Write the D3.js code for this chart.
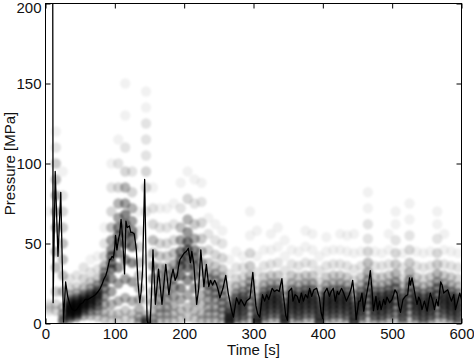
<!DOCTYPE html>
<html>
<head>
<meta charset="utf-8">
<script src="https://cdn.jsdelivr.net/npm/d3@7"></script>
<style>
  html, body { margin: 0; padding: 0; background: #fff; }
  svg { display: block; }
  text { font-family: "Liberation Sans", Arial, sans-serif; }
</style>
</head>
<body>
<svg id="chart" width="474" height="359"></svg>
<script>
// ---- data ----
const xTicks = [0, 100, 200, 300, 400, 500, 600];
const yTicks = [0, 50, 100, 150, 200];
const xLabel = "Time [s]";
const yLabel = "Pressure [MPa]";

// mean pressure line (time, value)
const lineTime = [10.3, 11, 14, 18, 22, 26, 29, 32, 35, 38, 42, 45, 50, 54, 57, 61, 65, 69, 72, 76, 79, 82, 84, 87, 89, 91, 92.5, 94, 96, 98, 100, 101, 103, 105, 107, 109, 111, 114, 116, 118, 121, 123, 125, 128, 131, 133.5, 136, 138, 140, 143, 146.5, 148, 151, 153, 155, 158.5, 163, 168, 173.5, 178, 181, 184, 187, 190, 192, 194, 197, 200, 203, 206, 209, 211, 214, 218, 221, 224, 228.5, 232, 235.5, 238, 241, 244, 247, 249, 251.5, 256, 260, 263.5, 268.5, 271, 275.5, 279, 282, 287, 290, 295, 299, 303.5, 306, 309, 313, 316, 319, 322, 327, 330, 334, 337, 341, 343, 346.5, 349, 351, 355, 357, 360, 363, 366, 369, 372, 375, 378, 381, 384, 387, 391, 395, 397.6, 400, 402, 406, 409.5, 412, 415, 418, 421, 423, 427, 430, 434, 438, 441, 443, 446, 448, 452, 454, 456.4, 459, 462.6, 466, 468.5, 470.9, 473, 476.6, 479, 481.9, 484, 487.7, 490, 492.5, 496.4, 499.8, 502, 504, 507, 509.5, 512, 515.6, 519, 522.4, 525, 526.2, 528.6, 531, 533.5, 535.9, 538.3, 540.7, 543, 546.5, 550.4, 552.8, 555, 558.5, 561, 563.8, 566.3, 570, 572, 574.4, 576.8, 580.2, 583, 585.5, 588.9, 591.3, 594.6, 597.5, 600];
const lineValue = [260, 13, 95, 42, 82, 1, 26, 17, 12, 9, 8, 8.7, 12, 13, 15, 15, 16, 17, 18, 20, 22, 25, 27.5, 30, 33, 37, 40, 40, 42, 41, 48, 55, 46, 52, 56, 65, 55, 31, 64, 60, 61, 57, 57, 56, 46, 25, 13, 20, 33, 90, 2, 0, 0, 20, 46, 12, 34, 12, 37, 18, 28, 34, 27, 30, 36, 40, 42, 44, 45, 47, 38, 45, 37, 12, 22, 46, 23, 37, 23, 27, 24, 27, 24, 21, 16, 22, 30, 19, 8, 4, 16, 12, 15, 11, 14, 16, 32, 11, 6, 4, 18, 14, 18, 15, 22, 20, 21, 20, 28, 18, 5, 2, 20, 22, 14, 18, 17, 13, 19, 14, 18, 16, 22, 17, 21, 22, 16, 6.7, 3, 19, 22, 17, 20, 22, 14, 20, 18, 22, 19, 14, 18, 22, 27, 15, 2.5, 14, 14, 19, 7.7, 17, 25, 33, 21, 8, 17, 8.7, 14, 8.7, 15, 12, 16.5, 13, 15, 18, 21, 19, 11, 7, 15, 17, 18, 28.5, 24, 28.5, 23, 17, 12, 16.5, 14, 8.7, 14, 7.7, 14, 19, 14, 8.7, 15, 11, 26, 24, 19, 20, 21, 17, 14, 18, 8.7, 14, 19, 15];

// individual sensor readings, grouped by time bin: pressure levels and how many readings sit at each
const scatterTime = [5, 15, 25, 35, 45, 55, 65, 75, 85, 95, 105, 115, 125, 135, 145, 155, 165, 175, 185, 195, 205, 215, 225, 235, 245, 255, 265, 275, 285, 295, 305, 315, 325, 335, 345, 355, 365, 375, 385, 395, 405, 415, 425, 435, 445, 455, 465, 475, 485, 495, 505, 515, 525, 535, 545, 555, 565, 575, 585, 595];
const scatterValues = [
  [8, 10, 12, 70],
  [8, 12, 20, 35, 45, 60, 70, 80, 90, 100, 110, 120],
  [1, 3, 6, 10, 20, 30, 40, 50, 60, 70, 80, 95],
  [3, 5, 7, 9, 11, 13, 15, 18, 22, 28],
  [4, 6, 8, 10, 12, 14, 16, 19, 23, 30],
  [5, 8, 10, 12, 14, 16, 18, 22, 28, 35],
  [5, 8, 11, 13, 15, 17, 19, 22, 26, 32, 40],
  [4, 8, 11, 14, 17, 19, 21, 24, 28, 34, 42],
  [3, 7, 12, 17, 22, 26, 29, 32, 36, 42, 50, 60],
  [2, 6, 12, 20, 28, 34, 38, 42, 46, 52, 60, 70, 85, 100],
  [2, 6, 14, 25, 35, 44, 50, 55, 60, 66, 75, 85, 100, 115],
  [3, 8, 16, 28, 40, 50, 56, 62, 68, 75, 85, 95, 110, 130, 150],
  [2, 6, 14, 26, 38, 48, 54, 58, 64, 72, 82, 95],
  [1, 4, 9, 15, 22, 30, 38, 48, 58, 70],
  [0, 2, 5, 15, 40, 70, 85, 95, 105, 115, 125, 135, 145],
  [0, 3, 7, 13, 20, 28, 36, 44, 52, 62, 72, 85],
  [2, 6, 10, 15, 20, 25, 30, 35, 42, 50, 60, 72],
  [2, 6, 10, 15, 20, 25, 30, 35, 42, 50, 60, 72],
  [2, 6, 11, 17, 23, 28, 32, 37, 44, 52, 62, 75],
  [3, 8, 15, 22, 30, 36, 40, 45, 52, 60, 72, 88],
  [4, 10, 18, 27, 35, 41, 46, 51, 57, 65, 78, 95],
  [3, 8, 14, 22, 30, 36, 41, 46, 53, 62, 75, 90],
  [2, 6, 12, 18, 25, 32, 38, 45, 53, 63, 76, 88],
  [2, 6, 10, 15, 20, 24, 28, 32, 38, 46, 56, 66],
  [2, 6, 10, 15, 19, 23, 27, 31, 36, 43, 52, 62],
  [1, 5, 9, 13, 17, 21, 25, 29, 34, 41, 50, 58],
  [0, 2, 4, 6, 8, 11, 14, 18, 24, 31, 40],
  [1, 4, 7, 10, 13, 16, 19, 23, 28, 35, 45],
  [2, 5, 8, 11, 14, 17, 20, 24, 29, 35, 42],
  [2, 6, 10, 14, 18, 22, 26, 30, 36, 44, 55, 70],
  [0, 2, 4, 7, 10, 13, 16, 20, 25, 32, 42, 58],
  [2, 5, 8, 11, 14, 17, 20, 24, 29, 36, 46],
  [3, 6, 9, 12, 15, 18, 21, 25, 30, 37, 46, 56],
  [3, 6, 9, 12, 15, 18, 21, 25, 30, 38, 48, 60],
  [0, 2, 4, 7, 10, 13, 17, 21, 26, 33, 42, 52],
  [3, 6, 9, 12, 15, 18, 21, 25, 30, 37, 46],
  [2, 5, 8, 11, 14, 17, 20, 24, 29, 36, 45],
  [3, 6, 9, 12, 15, 18, 21, 25, 30, 38, 48, 58],
  [3, 6, 9, 12, 15, 18, 21, 25, 30, 37, 46, 56],
  [0, 2, 5, 8, 11, 14, 17, 21, 26, 33, 42],
  [2, 5, 8, 11, 14, 17, 20, 24, 29, 36, 45, 54],
  [3, 6, 9, 12, 15, 18, 21, 25, 30, 37, 46],
  [3, 6, 9, 12, 15, 18, 21, 25, 30, 37, 46, 56],
  [2, 5, 8, 11, 14, 17, 20, 24, 29, 36, 45, 55],
  [0, 2, 5, 8, 11, 14, 18, 22, 27, 34, 44, 56],
  [2, 5, 8, 11, 14, 17, 20, 24, 29, 36, 45],
  [3, 7, 11, 15, 19, 23, 27, 32, 38, 45, 53, 62, 72, 82],
  [2, 5, 8, 11, 14, 17, 20, 24, 29, 36, 45],
  [2, 5, 8, 11, 14, 17, 20, 24, 29, 36, 44],
  [3, 6, 9, 12, 15, 18, 21, 25, 30, 37, 46, 56],
  [3, 6, 10, 14, 18, 22, 26, 31, 37, 44, 52, 62, 70],
  [1, 4, 7, 10, 13, 16, 19, 23, 28, 35, 44],
  [3, 7, 11, 15, 19, 23, 27, 32, 38, 46, 55, 65, 75],
  [2, 5, 8, 11, 14, 17, 20, 24, 29, 36, 45],
  [1, 4, 7, 10, 13, 16, 19, 23, 28, 35, 44],
  [2, 5, 8, 11, 14, 17, 20, 24, 29, 36, 45],
  [3, 6, 10, 14, 18, 22, 26, 31, 37, 44, 53, 62, 70],
  [3, 6, 9, 12, 15, 18, 21, 25, 30, 37, 46, 56],
  [2, 5, 8, 11, 14, 17, 20, 24, 29, 36, 45],
  [1, 4, 7, 10, 13, 16, 19, 23, 28, 35, 44]
];
const scatterCounts = [
  [2, 2, 2, 1],
  [3, 3, 4, 5, 6, 6, 6, 6, 5, 4, 2, 1],
  [8, 8, 6, 5, 5, 5, 5, 5, 4, 3, 2, 1],
  [10, 16, 20, 22, 20, 14, 9, 5, 3, 2],
  [10, 16, 20, 22, 20, 14, 9, 5, 3, 2],
  [7, 11, 15, 18, 16, 13, 9, 5, 3, 2],
  [5, 8, 12, 15, 15, 13, 10, 6, 4, 2, 1],
  [4, 7, 10, 13, 15, 13, 10, 7, 4, 2, 1],
  [4, 5, 7, 9, 11, 12, 11, 8, 6, 3, 2, 1],
  [3, 4, 6, 8, 10, 12, 13, 13, 10, 8, 5, 3, 2, 1],
  [3, 4, 6, 8, 10, 12, 13, 13, 11, 8, 6, 3, 2, 1],
  [3, 4, 6, 8, 10, 12, 13, 13, 11, 8, 6, 3, 2, 1, 1],
  [3, 4, 6, 8, 10, 12, 13, 10, 8, 6, 3, 2],
  [6, 6, 6, 6, 6, 5, 4, 3, 2, 1],
  [14, 10, 5, 3, 2, 2, 3, 3, 2, 2, 2, 1, 1],
  [6, 6, 5, 5, 6, 7, 7, 6, 5, 3, 2, 1],
  [5, 6, 7, 8, 8, 8, 8, 6, 4, 3, 2, 1],
  [5, 6, 7, 8, 8, 8, 8, 6, 4, 3, 2, 1],
  [4, 5, 6, 8, 9, 9, 9, 7, 5, 3, 2, 1],
  [4, 5, 7, 10, 13, 14, 14, 12, 8, 5, 2, 1],
  [4, 5, 7, 10, 13, 15, 15, 13, 9, 6, 3, 1],
  [4, 5, 7, 9, 12, 13, 13, 10, 7, 4, 2, 1],
  [5, 5, 5, 6, 7, 7, 6, 5, 4, 3, 2, 1],
  [5, 6, 7, 8, 9, 9, 8, 6, 4, 3, 2, 1],
  [5, 6, 7, 8, 9, 9, 8, 6, 4, 3, 2, 1],
  [5, 7, 8, 9, 9, 9, 7, 6, 4, 3, 2, 1],
  [13, 13, 12, 10, 9, 7, 6, 4, 3, 2, 1],
  [7, 10, 12, 13, 13, 10, 7, 5, 3, 2, 1],
  [7, 10, 12, 13, 13, 10, 7, 5, 3, 2, 1],
  [5, 6, 8, 9, 9, 9, 7, 5, 4, 3, 1, 1],
  [12, 12, 11, 10, 9, 7, 5, 4, 3, 2, 1, 1],
  [7, 10, 13, 15, 15, 12, 9, 6, 4, 2, 1],
  [6, 9, 12, 14, 15, 13, 10, 7, 4, 2, 1, 1],
  [6, 9, 12, 14, 15, 13, 10, 7, 4, 2, 1, 1],
  [10, 12, 12, 12, 11, 9, 7, 5, 3, 2, 1, 1],
  [7, 10, 13, 15, 15, 12, 9, 6, 4, 2, 1],
  [7, 10, 13, 15, 15, 12, 9, 6, 4, 2, 1],
  [6, 9, 12, 14, 15, 13, 10, 7, 4, 2, 1, 1],
  [6, 9, 12, 14, 15, 13, 10, 7, 4, 2, 1, 1],
  [10, 12, 12, 12, 11, 9, 7, 5, 3, 2, 1],
  [6, 9, 12, 14, 15, 13, 10, 7, 4, 2, 1, 1],
  [7, 10, 13, 15, 15, 12, 9, 6, 4, 2, 1],
  [6, 9, 12, 14, 15, 13, 10, 7, 4, 2, 1, 1],
  [6, 9, 12, 14, 15, 13, 10, 7, 4, 2, 1, 1],
  [10, 12, 12, 12, 11, 9, 7, 5, 3, 2, 1, 1],
  [7, 10, 13, 15, 15, 12, 9, 6, 4, 2, 1],
  [5, 8, 10, 12, 12, 11, 9, 7, 5, 3, 2, 2, 1, 1],
  [7, 10, 13, 15, 15, 12, 9, 6, 4, 2, 1],
  [7, 10, 13, 15, 15, 12, 9, 6, 4, 2, 1],
  [6, 9, 12, 14, 15, 13, 10, 7, 4, 2, 1, 1],
  [5, 8, 10, 12, 12, 11, 9, 6, 4, 3, 2, 1, 1],
  [8, 10, 12, 13, 13, 11, 8, 5, 3, 2, 1],
  [5, 8, 10, 12, 12, 11, 9, 6, 4, 3, 2, 1, 1],
  [7, 10, 13, 15, 15, 12, 9, 6, 4, 2, 1],
  [8, 10, 12, 13, 13, 11, 8, 5, 3, 2, 1],
  [7, 10, 13, 15, 15, 12, 9, 6, 4, 2, 1],
  [5, 8, 10, 12, 12, 11, 9, 6, 4, 3, 2, 1, 1],
  [6, 9, 12, 14, 15, 13, 10, 7, 4, 2, 1, 1],
  [7, 10, 13, 15, 15, 12, 9, 6, 4, 2, 1],
  [8, 10, 12, 13, 13, 11, 8, 5, 3, 2, 1]
];

// ---- layout ----
const svg = d3.select("#chart");
const plot = { left: 45.5, right: 461.5, top: 3.5, bottom: 323.5 };

const x = d3.scaleLinear().domain([0, 600]).range([plot.left, plot.right]);
const y = d3.scaleLinear().domain([0, 200]).range([plot.bottom, plot.top]);

const defs = svg.append("defs");
defs.append("clipPath").attr("id", "clip")
  .append("rect")
  .attr("x", plot.left).attr("y", plot.top)
  .attr("width", plot.right - plot.left).attr("height", plot.bottom - plot.top);
defs.append("filter").attr("id", "soft")
  .attr("x", "-5%").attr("y", "-5%").attr("width", "110%").attr("height", "110%")
  .append("feGaussianBlur").attr("stdDeviation", 1.1);

const g = svg.append("g").attr("clip-path", "url(#clip)");

// scatter points: one circle per pressure level, opacity compounded by the number of readings
const alphaOne = 0.056;
const points = [];
scatterTime.forEach((t, i) => scatterValues[i].forEach((v, j) => points.push({ t, v, n: scatterCounts[i][j] })));
g.append("g").attr("filter", "url(#soft)")
  .selectAll("circle").data(points).join("circle")
  .attr("cx", d => x(d.t))
  .attr("cy", d => y(d.v))
  .attr("r", 5.2)
  .attr("fill", "#000")
  .attr("fill-opacity", d => 1 - Math.pow(1 - alphaOne, d.n));

// mean line
const lineData = lineTime.map((t, i) => ({ t, v: lineValue[i] }));
g.append("path").datum(lineData)
  .attr("fill", "none")
  .attr("stroke", "#000")
  .attr("stroke-width", 1.3)
  .attr("stroke-linejoin", "round")
  .attr("d", d3.line().x(d => x(d.t)).y(d => y(d.v)));

// axes (inward ticks on all sides)
const tickLen = 5;
const fontSize = 15;
const axB = svg.append("g").attr("transform", `translate(0,${plot.bottom})`)
  .call(d3.axisBottom(x).tickValues(xTicks).tickSize(-tickLen).tickPadding(5));
const axT = svg.append("g").attr("transform", `translate(0,${plot.top})`)
  .call(d3.axisTop(x).tickValues(xTicks).tickSize(-tickLen).tickFormat(""));
const axL = svg.append("g").attr("transform", `translate(${plot.left},0)`)
  .call(d3.axisLeft(y).tickValues(yTicks).tickSize(-tickLen).tickPadding(4));
const axR = svg.append("g").attr("transform", `translate(${plot.right},0)`)
  .call(d3.axisRight(y).tickValues(yTicks).tickSize(-tickLen).tickFormat(""));

[axB, axT, axL, axR].forEach(a => {
  a.select(".domain").remove();
  a.selectAll("line").attr("stroke", "#000");
  a.selectAll("text").attr("font-size", fontSize).attr("fill", "#111")
    .attr("font-family", "'Liberation Sans', Arial, sans-serif");
});
axB.selectAll("text").attr("dy", "0.75em").attr("y", 4);
axL.selectAll("text").filter(d => d === 200).attr("dy", "0.62em");

svg.append("rect")
  .attr("x", plot.left).attr("y", plot.top)
  .attr("width", plot.right - plot.left).attr("height", plot.bottom - plot.top)
  .attr("fill", "none").attr("stroke", "#000").attr("stroke-width", 1);

svg.append("text")
  .attr("x", (plot.left + plot.right) / 2).attr("y", 355)
  .attr("text-anchor", "middle").attr("font-size", fontSize).attr("fill", "#111")
  .text(xLabel);

svg.append("text")
  .attr("transform", `translate(15,${(plot.top + plot.bottom) / 2}) rotate(-90)`)
  .attr("text-anchor", "middle").attr("font-size", fontSize).attr("fill", "#111")
  .text(yLabel);
</script>
</body>
</html>
